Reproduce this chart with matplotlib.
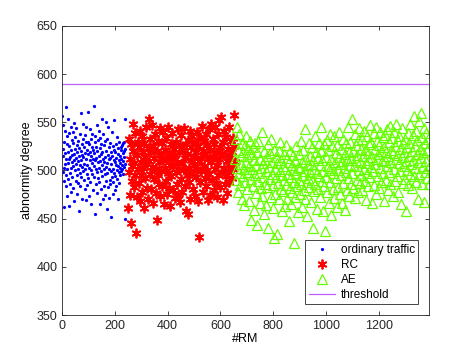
import numpy as np
import matplotlib.pyplot as plt

plt.rcParams['font.family'] = 'Liberation Sans'
plt.rcParams['font.size'] = 9

# abnormity degree per RM
ordinary = [
    556, 522, 498, 515, 547, 489, 503, 530, 462, 518, 541, 507, 495, 566, 512, 484, 527, 501, 536, 474,
    519, 508, 553, 491, 463, 525, 512, 539, 497, 486, 514, 545, 503, 521, 478, 532, 509, 493, 516, 540,
    505, 528, 482, 511, 549, 468, 517, 500, 535, 522, 489, 513, 507, 544, 495, 519, 476, 526, 510, 502,
    531, 487, 515, 458, 523, 497, 538, 506, 484, 520, 511, 560, 493, 527, 504, 516, 470, 533, 499, 548,
    514, 490, 524, 507, 537, 481, 518, 501, 529, 469, 512, 545, 496, 521, 485, 506, 561, 517, 492, 530,
    503, 527, 474, 511, 543, 488, 519, 500, 533, 515, 465, 524, 508, 496, 538, 512, 480, 521, 567, 505,
    518, 493, 529, 455, 511, 536, 501, 486, 524, 513, 547, 498, 520, 477, 509, 532, 492, 515, 503, 541,
    488, 523, 510, 465, 534, 499, 517, 481, 527, 506, 553, 494, 519, 470, 512, 538, 501, 484, 526, 509,
    496, 531, 475, 514, 504, 550, 489, 520, 460, 508, 533, 497, 483, 516, 545, 502, 471, 524, 512, 490,
    528, 486, 513, 499, 452, 519, 507, 540, 493, 515, 476, 525, 502, 488, 511, 552, 497, 521, 480, 509,
    519, 494, 506, 527, 484, 513, 500, 535, 491, 517, 505, 470, 523, 498, 511, 487, 529, 503, 515, 495,
    508, 521, 499, 524, 512, 502, 526, 506, 518, 496, 528, 510, 520, 504, 530, 514, 522, 507, 553, 450,
]
rc = [
    461, 533, 498, 512, 475, 527, 446, 505, 489, 548, 520, 483, 508, 539, 495, 435, 516, 472, 530, 501,
    487, 524, 541, 468, 509, 495, 536, 478, 519, 503, 461, 528, 492, 514, 545, 482, 507, 523, 470, 553,
    510, 496, 533, 481, 519, 504, 547, 466, 525, 491, 513, 538, 477, 502, 449, 520, 495, 531, 486, 509,
    544, 473, 516, 499, 528, 484, 511, 540, 465, 521, 503, 489, 534, 476, 513, 497, 545, 482, 518, 506,
    463, 527, 494, 512, 539, 480, 505, 522, 471, 516, 498, 530, 486, 509, 543, 475, 519, 502, 467, 526,
    491, 537, 508, 478, 521, 500, 544, 484, 513, 458, 527, 495, 517, 455, 532, 503, 488, 541, 470, 511,
    524, 497, 536, 481, 515, 506, 529, 473, 519, 493, 540, 502, 468, 525, 510, 431, 535, 488, 513, 499,
    546, 478, 520, 505, 531, 492, 517, 484, 538, 500, 526, 469, 512, 543, 496, 521, 475, 509, 548, 490,
    533, 514, 480, 527, 501, 545, 487, 519, 472, 506, 538, 495, 552, 512, 483, 524, 555, 498, 517, 469,
    529, 503, 541, 486, 516, 494, 535, 510, 477, 522, 499, 545, 488, 514, 506, 531, 492, 519, 502, 534,
    525, 557, 509,
]
ae = [
    512, 533, 490, 545, 503, 478, 521, 497, 538, 485, 515, 507, 470, 528, 494, 519, 501, 464, 526, 488,
    509, 536, 481, 515, 498, 522, 468, 505, 531, 491, 449, 517, 502, 484, 524, 459, 511, 495, 528, 477,
    506, 443, 519, 489, 531, 497, 466, 512, 482, 503, 540, 474, 508, 493, 455, 520, 486, 511, 499, 464,
    515, 483, 527, 440, 504, 491, 518, 472, 533, 496, 509, 461, 485, 521, 430, 502, 476, 514, 493, 434,
    508, 487, 520, 470, 499, 530, 481, 511, 458, 495, 505, 479, 517, 490, 463, 502, 526, 485, 470, 513,
    496, 448, 509, 482, 520, 493, 465, 506, 478, 516, 500, 425, 488, 511, 472, 497, 525, 484, 457, 504,
    490, 517, 476, 503, 531, 486, 462, 509, 495, 521, 480, 499, 543, 470, 512, 488, 453, 506, 492, 528,
    483, 515, 498, 467, 507, 524, 490, 440, 511, 479, 502, 536, 486, 519, 460, 497, 513, 481, 528, 494,
    506, 472, 520, 545, 489, 511, 458, 499, 527, 484, 437, 514, 493, 532, 478, 505, 521, 466, 500, 538,
    488, 512, 454, 503, 525, 481, 497, 536, 471, 509, 518, 492, 462, 526, 500, 483, 514, 540, 476, 507,
    495, 522, 466, 510, 533, 487, 503, 459, 517, 498, 528, 480, 511, 545, 492, 519, 473, 506, 530, 486,
    513, 497, 553, 482, 520, 505, 538, 471, 511, 526, 490, 516, 478, 532, 500, 544, 487, 509, 522, 495,
    533, 480, 515, 502, 541, 489, 521, 469, 508, 536, 497, 518, 484, 527, 511, 547, 493, 504, 530, 466,
    514, 499, 539, 485, 522, 507, 545, 476, 512, 531, 494, 517, 482, 526, 503, 540, 488, 520, 510, 535,
    497, 524, 468, 511, 537, 490, 519, 505, 543, 480, 515, 529, 498, 546, 486, 521, 509, 534, 473, 518,
    502, 540, 489, 525, 512, 548, 494, 516, 531, 478, 508, 536, 499, 522, 465, 514, 544, 487, 528, 505,
    519, 491, 533, 510, 458, 524, 500, 539, 485, 515, 528, 496, 548, 507, 520, 482, 537, 511, 556, 494,
    525, 503, 541, 488, 517, 532, 470, 509, 551, 496, 522, 513, 560, 486, 535, 505, 519, 467, 544, 498,
    528, 510, 539, 492, 521, 503, 533, 486,
]
threshold = 590

x_ord = np.arange(1, 1 + len(ordinary))
x_rc = np.arange(250, 250 + 2 * len(rc), 2)
x_ae = np.arange(656, 656 + 2 * len(ae), 2)

fig = plt.figure(figsize=(4.74, 3.54), dpi=100)
ax = fig.add_axes([0.131, 0.110, 0.774, 0.817])

ax.plot(x_ord, ordinary, '.', color='#0000ff', markersize=2.6, label='ordinary traffic')
ax.plot(x_rc, rc, linestyle='none', marker=(6, 2, 0), color='#ff0000', markersize=7,
        markeredgewidth=1.3, label='RC')
ax.plot(x_ae, ae, '^', markerfacecolor='none', markeredgecolor='#66ff00', markersize=7,
        markeredgewidth=0.9, label='AE')
ax.axhline(threshold, color='#bf5fff', linewidth=0.9, label='threshold')

ax.set_xlim(0, 1390)
ax.set_ylim(350, 650)
ax.set_xticks(np.arange(0, 1201, 200))
ax.set_yticks(np.arange(350, 651, 50))
ax.tick_params(direction='in', top=True, right=True, length=3, width=0.6, colors='#262626')
for s in ax.spines.values():
    s.set_linewidth(0.6)
    s.set_color('#262626')
ax.set_xlabel('#RM', labelpad=1)
ax.set_ylabel('abnormity degree', labelpad=2)

leg = ax.legend(loc='lower right', fancybox=False, edgecolor='#262626', framealpha=1,
                fontsize=8.5, borderaxespad=0.9, handlelength=2.2, labelspacing=0.25,
                borderpad=0.3, handletextpad=0.5)
leg.get_frame().set_linewidth(0.6)

fig.savefig('out.png', dpi=100)
